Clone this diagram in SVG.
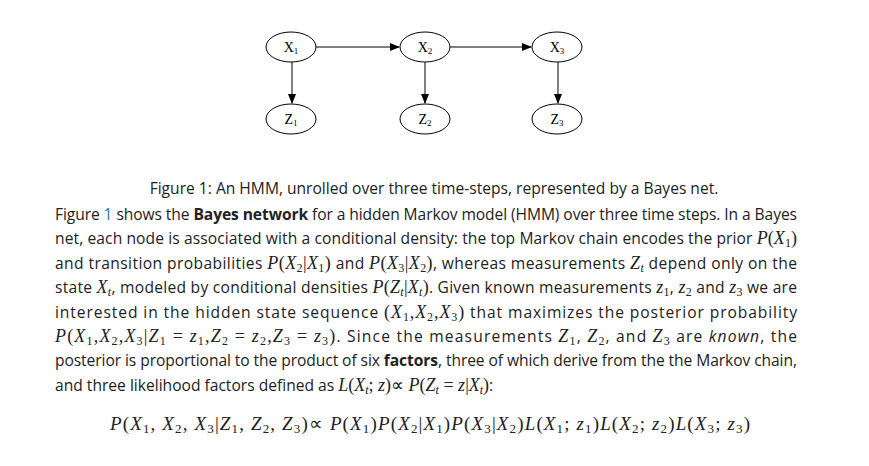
<svg xmlns="http://www.w3.org/2000/svg" width="869" height="466" viewBox="0 0 869 466">
<style>
.n ellipse{fill:#fff;stroke:#000;stroke-width:1}
.n text{font-family:"Liberation Serif",serif;font-size:14px;text-anchor:middle;fill:#000}
.n .s{font-size:9px;baseline-shift:-2px}
.e line{stroke:#000;stroke-width:1}
.t{font-family:"Open Sans","Noto Sans",sans-serif;font-size:15.6px;fill:#222}
.m{font-family:"Liberation Serif",serif;font-style:italic;font-size:18px}
.r{font-family:"Liberation Serif",serif;font-style:normal;font-size:18px}
.s{font-size:12px;baseline-shift:-3px}
.f .m,.f .r{font-size:19px}
.f .s{font-size:13px}
</style>
<defs><marker id="a" markerWidth="10" markerHeight="8" refX="9" refY="4" orient="auto" markerUnits="userSpaceOnUse"><path d="M0,0L10,4L0,8z" fill="#000"/></marker></defs>
<rect width="869" height="466" fill="#fff"/>
<g class="e">
<line x1="316" y1="47" x2="399" y2="47" marker-end="url(#a)"/>
<line x1="450" y1="47" x2="531" y2="47" marker-end="url(#a)"/>
<line x1="292" y1="62" x2="292" y2="103" marker-end="url(#a)"/>
<line x1="425" y1="62" x2="425" y2="103" marker-end="url(#a)"/>
<line x1="558" y1="62" x2="558" y2="103" marker-end="url(#a)"/>
</g>
<g id="X1" class="n"><ellipse cx="291" cy="47" rx="25" ry="15"/><text x="291" y="52">X<tspan class="s">1</tspan></text></g>
<g id="X2" class="n"><ellipse cx="425" cy="47" rx="25" ry="15"/><text x="425" y="52">X<tspan class="s">2</tspan></text></g>
<g id="X3" class="n"><ellipse cx="557" cy="47" rx="25" ry="15"/><text x="557" y="52">X<tspan class="s">3</tspan></text></g>
<g id="Z1" class="n"><ellipse cx="291" cy="119" rx="25" ry="15"/><text x="291" y="124">Z<tspan class="s">1</tspan></text></g>
<g id="Z2" class="n"><ellipse cx="425" cy="119" rx="25" ry="15"/><text x="425" y="124">Z<tspan class="s">2</tspan></text></g>
<g id="Z3" class="n"><ellipse cx="557" cy="119" rx="25" ry="15"/><text x="557" y="124">Z<tspan class="s">3</tspan></text></g>
<text class="t" x="434" y="194" text-anchor="middle">Figure 1: An HMM, unrolled over three time-steps, represented by a Bayes net.</text>
<text class="t" x="55" y="220" textLength="742">Figure <tspan fill="#2a6fc9">1</tspan> shows the <tspan font-weight="bold">Bayes network</tspan> for a hidden Markov model (HMM) over three time steps. In a Bayes</text>
<text class="t" x="55" y="244" textLength="742">net, each node is associated with a conditional density: the top Markov chain encodes the prior <tspan class="m">P</tspan><tspan class="r">(</tspan><tspan class="m">X</tspan><tspan class="s r">1</tspan><tspan class="r">)</tspan></text>
<text class="t" x="55" y="269" textLength="742">and transition probabilities <tspan class="m">P</tspan><tspan class="r">(</tspan><tspan class="m">X</tspan><tspan class="s r">2</tspan><tspan class="r">|</tspan><tspan class="m">X</tspan><tspan class="s r">1</tspan><tspan class="r">)</tspan> and <tspan class="m">P</tspan><tspan class="r">(</tspan><tspan class="m">X</tspan><tspan class="s r">3</tspan><tspan class="r">|</tspan><tspan class="m">X</tspan><tspan class="s r">2</tspan><tspan class="r">)</tspan>, whereas measurements <tspan class="m">Z</tspan><tspan class="s m">t</tspan> depend only on the</text>
<text class="t" x="55" y="293" textLength="742">state <tspan class="m">X</tspan><tspan class="s m">t</tspan>, modeled by conditional densities <tspan class="m">P</tspan><tspan class="r">(</tspan><tspan class="m">Z</tspan><tspan class="s m">t</tspan><tspan class="r">|</tspan><tspan class="m">X</tspan><tspan class="s m">t</tspan><tspan class="r">)</tspan>. Given known measurements <tspan class="m">z</tspan><tspan class="s r">1</tspan>, <tspan class="m">z</tspan><tspan class="s r">2</tspan> and <tspan class="m">z</tspan><tspan class="s r">3</tspan> we are</text>
<text class="t" x="55" y="318" textLength="742">interested in the hidden state sequence <tspan class="r">(</tspan><tspan class="m">X</tspan><tspan class="s r">1</tspan><tspan class="r">,</tspan><tspan class="m">X</tspan><tspan class="s r">2</tspan><tspan class="r">,</tspan><tspan class="m">X</tspan><tspan class="s r">3</tspan><tspan class="r">)</tspan> that maximizes the posterior probability</text>
<text class="t" x="55" y="342" textLength="742"><tspan class="m">P</tspan><tspan class="r">(</tspan><tspan class="m">X</tspan><tspan class="s r">1</tspan><tspan class="r">,</tspan><tspan class="m">X</tspan><tspan class="s r">2</tspan><tspan class="r">,</tspan><tspan class="m">X</tspan><tspan class="s r">3</tspan><tspan class="r">|</tspan><tspan class="m">Z</tspan><tspan class="s r">1</tspan><tspan class="r"> = </tspan><tspan class="m">z</tspan><tspan class="s r">1</tspan><tspan class="r">,</tspan><tspan class="m">Z</tspan><tspan class="s r">2</tspan><tspan class="r"> = </tspan><tspan class="m">z</tspan><tspan class="s r">2</tspan><tspan class="r">,</tspan><tspan class="m">Z</tspan><tspan class="s r">3</tspan><tspan class="r"> = </tspan><tspan class="m">z</tspan><tspan class="s r">3</tspan><tspan class="r">)</tspan>. Since the measurements <tspan class="m">Z</tspan><tspan class="s r">1</tspan>, <tspan class="m">Z</tspan><tspan class="s r">2</tspan>, and <tspan class="m">Z</tspan><tspan class="s r">3</tspan> are <tspan font-style="italic">known</tspan>, the</text>
<text class="t" x="55" y="366" textLength="742">posterior is proportional to the product of six <tspan font-weight="bold">factors</tspan>, three of which derive from the the Markov chain,</text>
<text class="t" x="55" y="391">and three likelihood factors defined as <tspan class="m">L</tspan><tspan class="r">(</tspan><tspan class="m">X</tspan><tspan class="s m">t</tspan><tspan class="r">; </tspan><tspan class="m">z</tspan><tspan class="r">)∝ </tspan><tspan class="m">P</tspan><tspan class="r">(</tspan><tspan class="m">Z</tspan><tspan class="s m">t</tspan><tspan class="r"> = </tspan><tspan class="m">z</tspan><tspan class="r">|</tspan><tspan class="m">X</tspan><tspan class="s m">t</tspan><tspan class="r">)</tspan>:</text>
<text class="t f" x="110" y="430" textLength="640"><tspan class="m">P</tspan><tspan class="r">(</tspan><tspan class="m">X</tspan><tspan class="s r">1</tspan><tspan class="r">, </tspan><tspan class="m">X</tspan><tspan class="s r">2</tspan><tspan class="r">, </tspan><tspan class="m">X</tspan><tspan class="s r">3</tspan><tspan class="r">|</tspan><tspan class="m">Z</tspan><tspan class="s r">1</tspan><tspan class="r">, </tspan><tspan class="m">Z</tspan><tspan class="s r">2</tspan><tspan class="r">, </tspan><tspan class="m">Z</tspan><tspan class="s r">3</tspan><tspan class="r">)∝ </tspan><tspan class="m">P</tspan><tspan class="r">(</tspan><tspan class="m">X</tspan><tspan class="s r">1</tspan><tspan class="r">)</tspan><tspan class="m">P</tspan><tspan class="r">(</tspan><tspan class="m">X</tspan><tspan class="s r">2</tspan><tspan class="r">|</tspan><tspan class="m">X</tspan><tspan class="s r">1</tspan><tspan class="r">)</tspan><tspan class="m">P</tspan><tspan class="r">(</tspan><tspan class="m">X</tspan><tspan class="s r">3</tspan><tspan class="r">|</tspan><tspan class="m">X</tspan><tspan class="s r">2</tspan><tspan class="r">)</tspan><tspan class="m">L</tspan><tspan class="r">(</tspan><tspan class="m">X</tspan><tspan class="s r">1</tspan><tspan class="r">; </tspan><tspan class="m">z</tspan><tspan class="s r">1</tspan><tspan class="r">)</tspan><tspan class="m">L</tspan><tspan class="r">(</tspan><tspan class="m">X</tspan><tspan class="s r">2</tspan><tspan class="r">; </tspan><tspan class="m">z</tspan><tspan class="s r">2</tspan><tspan class="r">)</tspan><tspan class="m">L</tspan><tspan class="r">(</tspan><tspan class="m">X</tspan><tspan class="s r">3</tspan><tspan class="r">; </tspan><tspan class="m">z</tspan><tspan class="s r">3</tspan><tspan class="r">)</tspan></text>
</svg>
